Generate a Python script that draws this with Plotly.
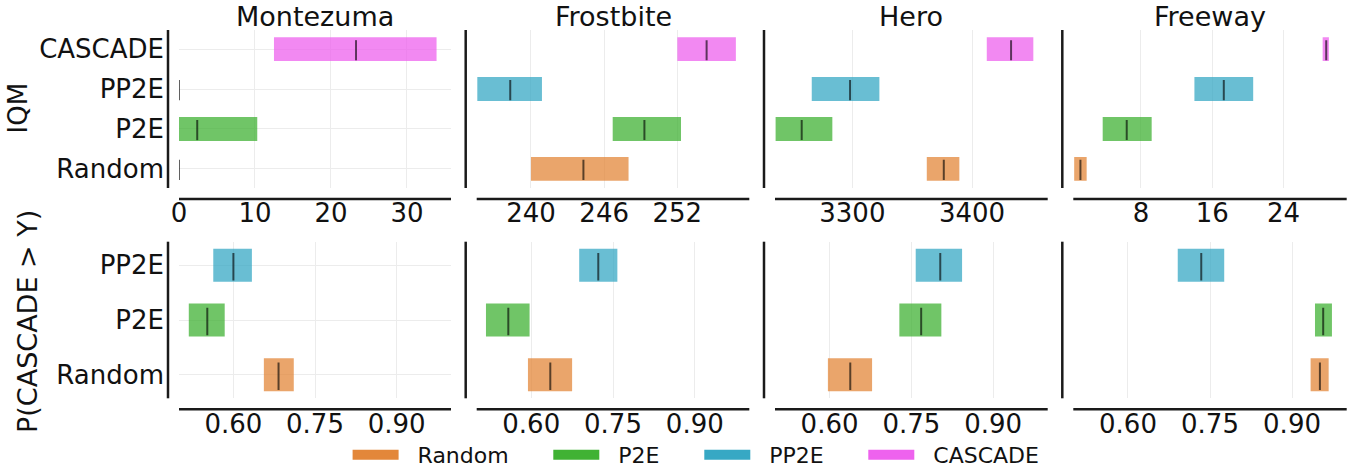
import plotly.graph_objects as go

# ---------------- data ----------------
GAMES = ["Montezuma", "Frostbite", "Hero", "Freeway"]
ALGS_IQM = ["Random", "P2E", "PP2E", "CASCADE"]
ALGS_POI = ["Random", "P2E", "PP2E"]

# IQM interval estimates (lower, median, upper) per game, order = ALGS_IQM
IQM_LOW = {
    "Montezuma": [0.0, 0.0, 0.0, 12.5],
    "Frostbite": [240.0, 246.7, 235.6, 252.0],
    "Hero": [3362.2, 3235.9, 3266.1, 3412.3],
    "Freeway": [0.5, 3.7, 14.0, 28.4],
}
IQM_MED = {
    "Montezuma": [0.0, 2.4, 0.0, 23.3],
    "Frostbite": [244.3, 249.3, 238.3, 254.4],
    "Hero": [3376.4, 3257.7, 3298.1, 3432.6],
    "Freeway": [1.2, 6.4, 17.3, 28.8],
}
IQM_HIGH = {
    "Montezuma": [0.0, 10.3, 0.0, 33.9],
    "Frostbite": [248.0, 252.3, 240.9, 256.8],
    "Hero": [3389.4, 3283.3, 3322.6, 3451.2],
    "Freeway": [1.9, 9.2, 20.6, 29.1],
}

# Probability of improvement P(CASCADE > Y), order = ALGS_POI
POI_LOW = {
    "Montezuma": [0.656, 0.518, 0.563],
    "Frostbite": [0.594, 0.517, 0.688],
    "Hero": [0.597, 0.728, 0.758],
    "Freeway": [0.934, 0.942, 0.691],
}
POI_MED = {
    "Montezuma": [0.683, 0.552, 0.600],
    "Frostbite": [0.635, 0.558, 0.723],
    "Hero": [0.638, 0.768, 0.803],
    "Freeway": [0.951, 0.957, 0.734],
}
POI_HIGH = {
    "Montezuma": [0.711, 0.584, 0.634],
    "Frostbite": [0.675, 0.597, 0.758],
    "Hero": [0.678, 0.805, 0.843],
    "Freeway": [0.967, 0.973, 0.776],
}

IQM_TICKS = {
    "Montezuma": [0, 10, 20, 30],
    "Frostbite": [240, 246, 252],
    "Hero": [3300, 3400],
    "Freeway": [8, 16, 24],
}
POI_TICKS = [0.60, 0.75, 0.90]
POI_TICKTEXT = ["0.60", "0.75", "0.90"]

# ---------------- style ----------------
COLORS = {"Random": (227, 135, 58), "P2E": (64, 178, 52),
          "PP2E": (55, 168, 196), "CASCADE": (238, 98, 238)}
IQM_RANGE = {"Montezuma": [0, 35.8], "Frostbite": [235.55, 257.9],
             "Hero": [3235.4, 3463.2], "Freeway": [0.4, 31.1]}
POI_RANGE = [0.5, 1.0]

W, H = 1349, 468
FONT = "DejaVu Sans"
TXT = "#111111"
X_PIX = [(179, 451), (476.7, 749.3), (775, 1047.7), (1073.3, 1346.7)]
TOP_PIX = (30, 188)
BOT_PIX = (241.7, 398.3)
SPINE_OFF = 11
LEGEND_X = [347.6, 548.3, 699.3, 863.3]
NBSP = "\u00a0\u00a0"

fig = go.Figure()
layout = dict(
    width=W, height=H, margin=dict(l=0, r=0, t=0, b=0, autoexpand=False),
    plot_bgcolor="white", paper_bgcolor="white",
    barmode="overlay", showlegend=True,
    font=dict(family=FONT, color=TXT, size=26),
)
shapes = []
annotations = []


def rgba(c, a):
    return "rgba(%d,%d,%d,%s)" % (c[0], c[1], c[2], a)


def add_panel(n, col, row_pix, algs, lows, meds, highs, xrange, tickvals,
              ticktext, yrange, show_ylabels, standoff):
    key = "" if n == 1 else str(n)
    xa = "x" + key
    ya = "y" + key
    for i, alg in enumerate(algs):
        fig.add_trace(go.Bar(
            orientation="h", y=[i], x=[highs[i] - lows[i]], base=[lows[i]],
            width=0.6, marker=dict(color=rgba(COLORS[alg], 0.75),
                                   line=dict(width=0)),
            showlegend=False, hoverinfo="skip", xaxis=xa, yaxis=ya))
    mx, my = [], []
    for i, m in enumerate(meds):
        mx += [m, m, None]
        my += [i - 0.28, i + 0.225, None]
    fig.add_trace(go.Scatter(
        x=mx, y=my, mode="lines",
        line=dict(color="rgba(0,0,0,0.62)", width=2),
        showlegend=False, hoverinfo="skip", xaxis=xa, yaxis=ya))

    x0, x1 = X_PIX[col]
    y0, y1 = row_pix
    layout["xaxis" + key] = dict(
        domain=[x0 / W, x1 / W], range=xrange, anchor=ya,
        tickvals=tickvals, ticktext=ticktext, ticks="",
        showline=False, zeroline=False, showgrid=True,
        gridcolor="#ececec", gridwidth=1, ticklabelstandoff=standoff,
        tickfont=dict(size=26, family=FONT, color=TXT))
    layout["yaxis" + key] = dict(
        domain=[1 - y1 / H, 1 - y0 / H], range=yrange, anchor=xa,
        tickvals=list(range(len(algs))) if show_ylabels else [],
        ticktext=algs if show_ylabels else [],
        showticklabels=show_ylabels, ticks="",
        showline=False, zeroline=False, showgrid=show_ylabels,
        gridcolor="#ececec", gridwidth=1, ticklabelstandoff=14,
        tickfont=dict(size=26, family=FONT, color=TXT))
    pw = x1 - x0
    ph = y1 - y0
    shapes.append(dict(type="line", xref=xa + " domain", yref=ya + " domain",
                       x0=-SPINE_OFF / pw, x1=-SPINE_OFF / pw, y0=0, y1=1,
                       line=dict(color="#1a1a1a", width=2.5)))
    shapes.append(dict(type="line", xref=xa + " domain", yref=ya + " domain",
                       x0=0, x1=1, y0=-SPINE_OFF / ph, y1=-SPINE_OFF / ph,
                       line=dict(color="#1a1a1a", width=2.5)))


for c, g in enumerate(GAMES):
    add_panel(c + 1, c, TOP_PIX, ALGS_IQM, IQM_LOW[g], IQM_MED[g], IQM_HIGH[g],
              IQM_RANGE[g], IQM_TICKS[g], [str(t) for t in IQM_TICKS[g]],
              [-0.48, 3.48], c == 0, 7)
    add_panel(c + 5, c, BOT_PIX, ALGS_POI, POI_LOW[g], POI_MED[g], POI_HIGH[g],
              POI_RANGE, POI_TICKS, POI_TICKTEXT, [-0.43, 2.43], c == 0, 8)
    x0, x1 = X_PIX[c]
    annotations.append(dict(text=g, xref="paper", yref="paper",
                            x=(x0 + x1) / 2 / W, y=1 - 17 / H,
                            xanchor="center", yanchor="middle",
                            showarrow=False, font=dict(size=27, family=FONT, color=TXT)))

annotations.append(dict(text="IQM", xref="paper", yref="paper",
                        x=17.5 / W, y=1 - 108 / H, textangle=-90,
                        xanchor="center", yanchor="middle", showarrow=False,
                        borderpad=0,
                        font=dict(size=26, family=FONT, color=TXT)))
annotations.append(dict(text="P(CASCADE > Y)", xref="paper", yref="paper",
                        x=27 / W, y=1 - 322 / H, textangle=-90,
                        xanchor="center", yanchor="middle", showarrow=False,
                        borderpad=0,
                        font=dict(size=27, family=FONT, color=TXT)))

# legend entries: one legend per entry, to control spacing
for k, alg in enumerate(ALGS_IQM):
    lg = "legend" if k == 0 else "legend%d" % (k + 1)
    fig.add_trace(go.Scatter(x=[None], y=[None], mode="lines",
                             name=NBSP + alg,
                             line=dict(color=rgba(COLORS[alg], 1), width=15),
                             xaxis="x", yaxis="y", hoverinfo="skip",
                             legend=lg))
    layout[lg] = dict(orientation="h", x=LEGEND_X[k] / W, y=1 - 455 / H,
                      xanchor="left", yanchor="middle",
                      font=dict(size=22, family=FONT, color=TXT),
                      bgcolor="rgba(0,0,0,0)", itemwidth=46,
                      borderwidth=0)
layout["shapes"] = shapes
layout["annotations"] = annotations
fig.update_layout(**layout)
fig.write_html("out.html",
               config={"displayModeBar": False},
               post_script="document.body.style.margin='0px';"
                           "document.body.style.overflow='hidden';")
